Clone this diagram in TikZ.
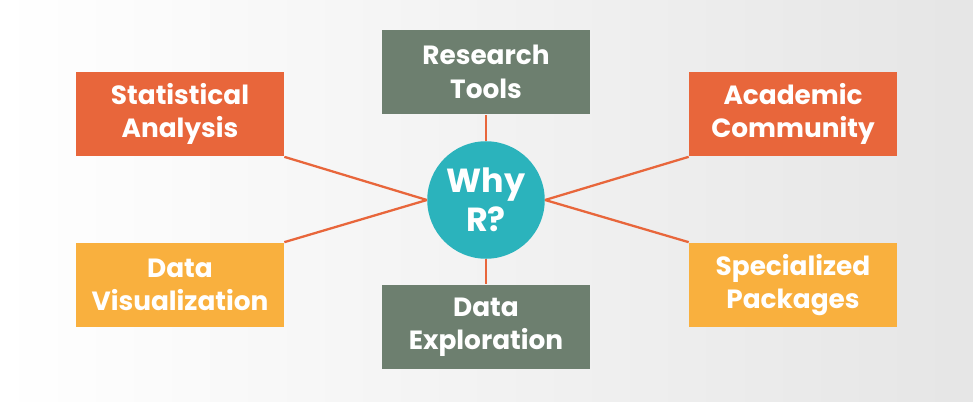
\documentclass[tikz,border=0pt]{standalone}
\usepackage{fontspec}
\setmainfont{Poppins}
\definecolor{redorange}{HTML}{E8663B}
\definecolor{sage}{HTML}{6D7F6F}
\definecolor{amber}{HTML}{F9B03E}
\definecolor{teal}{HTML}{2BB3BC}
\tikzset{
  topic/.style={minimum width=4.16cm, minimum height=1.7cm, text=white, align=center, font=\fontsize{15}{19}\selectfont\bfseries},
  link/.style={draw=redorange, line width=1.3pt}
}
\begin{document}
\begin{tikzpicture}[x=0.02cm,y=-0.02cm]
  \shade[left color=white, right color=black!10] (0,0) rectangle (973,402);
  \useasboundingbox (0,0) rectangle (973,402);

  \node[circle, fill=teal, minimum size=2.3cm, text=white, align=center, font=\fontsize{19}{22}\selectfont\bfseries] (why) at (486,200) {Why\\R?};

  \node[topic, fill=sage] (tools) at (486,72) {Research\\Tools};
  \node[topic, fill=redorange] (stat) at (180,114) {Statistical\\Analysis};
  \node[topic, fill=redorange] (acad) at (793,114) {Academic\\Community};
  \node[topic, fill=amber] (vis) at (180,285) {Data\\Visualization};
  \node[topic, fill=amber] (pack) at (793,285) {Specialized\\Packages};
  \node[topic, fill=sage] (expl) at (486,327) {Data\\Exploration};

  \draw[link] (why) -- (tools);
  \draw[link] (why) -- (expl);
  \draw[link] (why.west) -- (stat.south east);
  \draw[link] (why.west) -- (vis.north east);
  \draw[link] (why.east) -- (acad.south west);
  \draw[link] (why.east) -- (pack.north west);
\end{tikzpicture}
\end{document}
